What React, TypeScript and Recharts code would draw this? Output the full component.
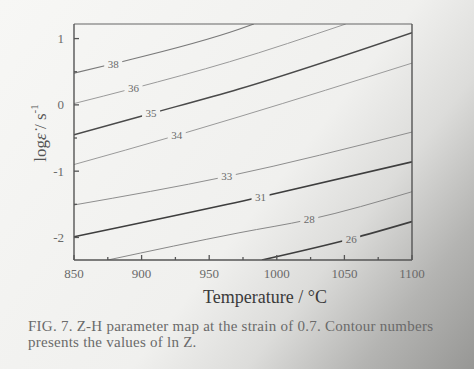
import React from 'react';
import { LineChart, Line, XAxis, YAxis, Label } from 'recharts';

// ---- data ----
const xTicks = [850, 875, 900, 925, 950, 975, 1000, 1025, 1050, 1075, 1100];
const xMajor = [850, 900, 950, 1000, 1050, 1100];
const yTicks = [-2, -1.5, -1, -0.5, 0, 0.5, 1];
const yMajor = [-2, -1, 0, 1];

const contour38 = [{ t: 850, v: 0.48 }, { t: 879, v: 0.62 }, { t: 972, v: 1.14 }, { t: 983, v: 1.22 }];
const contour36 = [{ t: 850, v: 0.02 }, { t: 894, v: 0.25 }, { t: 965, v: 0.65 }, { t: 1051, v: 1.22 }];
const contour35 = [{ t: 850, v: -0.45 }, { t: 907, v: -0.13 }, { t: 972, v: 0.24 }, { t: 1100, v: 1.09 }];
const contour34 = [{ t: 850, v: -0.9 }, { t: 926, v: -0.46 }, { t: 972, v: -0.18 }, { t: 1100, v: 0.63 }];
const contour33 = [{ t: 850, v: -1.51 }, { t: 963, v: -1.08 }, { t: 1100, v: -0.41 }];
const contour31 = [{ t: 850, v: -1.99 }, { t: 988, v: -1.39 }, { t: 1100, v: -0.86 }];
const contour28 = [{ t: 875, v: -2.34 }, { t: 972, v: -1.93 }, { t: 1024, v: -1.73 }, { t: 1100, v: -1.31 }];
const contour26 = [{ t: 989, v: -2.34 }, { t: 1055, v: -2.02 }, { t: 1100, v: -1.76 }];

const contours = [
  { name: '38', data: contour38, labelIdx: 1, color: '#7a7a7a', w: 1.2 },
  { name: '36', data: contour36, labelIdx: 1, color: '#9a9a9a', w: 1.0 },
  { name: '35', data: contour35, labelIdx: 1, color: '#4a4a4a', w: 1.5 },
  { name: '34', data: contour34, labelIdx: 1, color: '#9a9a9a', w: 1.0 },
  { name: '33', data: contour33, labelIdx: 1, color: '#8e8e8e', w: 1.0 },
  { name: '31', data: contour31, labelIdx: 1, color: '#3e3e3e', w: 1.6 },
  { name: '28', data: contour28, labelIdx: 2, color: '#888888', w: 1.0 },
  { name: '26', data: contour26, labelIdx: 1, color: '#3e3e3e', w: 1.6 },
];

const SERIF = '"Liberation Serif", "Times New Roman", serif';
const BG_STOPS = [
  { o: 0, c: '#f7f7f5' },
  { o: 0.55, c: '#f0f0ee' },
  { o: 0.7, c: '#dcdcda' },
  { o: 0.85, c: '#b4b4b2' },
  { o: 1, c: '#979795' },
];
const cssGradient = `linear-gradient(127.9deg, ${BG_STOPS.map((s) => `${s.c} ${s.o * 100}%`).join(', ')})`;

const XTick = (p: any) => {
  const v = p.payload.value;
  const major = xMajor.includes(v);
  const ay = p.y - 8;
  return (
    <g>
      <line x1={p.x} x2={p.x} y1={ay} y2={ay - (major ? 5 : 3)} stroke="#555" strokeWidth={1.3} />
      {major && (
        <text x={p.x} y={p.y} dy="0.75em" textAnchor="middle" fontSize={13} fill="#6a6a6a" fontFamily={SERIF}>
          {v}
        </text>
      )}
    </g>
  );
};

const YTick = (p: any) => {
  const v = p.payload.value;
  const major = yMajor.includes(v);
  const ax = p.x + 8;
  return (
    <g>
      <line x1={ax} x2={ax + (major ? 5 : 3)} y1={p.y} y2={p.y} stroke="#555" strokeWidth={1.3} />
      {major && (
        <text x={p.x - 2} y={p.y} dy="0.35em" textAnchor="end" fontSize={13} fill="#6a6a6a" fontFamily={SERIF}>
          {v}
        </text>
      )}
    </g>
  );
};

const XTitle = (p: any) => {
  const vb = p.viewBox;
  return (
    <text x={vb.x + vb.width / 2 + 22} y={vb.y + 43} textAnchor="middle" fontSize={18} fill="#3a3a3a" fontFamily={SERIF}>
      Temperature / °C
    </text>
  );
};

const YTitle = (p: any) => {
  const vb = p.viewBox;
  const cx = vb.x + 26;
  const cy = vb.y + vb.height / 2 - 9;
  return (
    <g>
      <defs>
        <linearGradient id="paperBg" gradientUnits="userSpaceOnUse" x1={0} y1={0} x2={474} y2={369}>
          {BG_STOPS.map((s) => (
            <stop key={s.o} offset={s.o} stopColor={s.c} />
          ))}
        </linearGradient>
      </defs>
      <text
        x={cx}
        y={cy}
        transform={`rotate(-90 ${cx} ${cy})`}
        textAnchor="middle"
        dominantBaseline="central"
        fontSize={17}
        fill="#555"
        fontFamily={SERIF}
      >
        log<tspan fontStyle="italic">{'\u03B5\u0307'}</tspan> / s<tspan dy={-6} fontSize={11}>-1</tspan>
      </text>
    </g>
  );
};

const makeLabel = (name: string, labelIdx: number) => (p: any) => {
  if (p.index !== labelIdx) return <g />;
  return (
    <g>
      <rect x={p.x - 9} y={p.y - 6} width={18} height={12} fill="url(#paperBg)" />
      <text x={p.x} y={p.y} dy="0.35em" textAnchor="middle" fontSize={11} fill="#6a6a6a" fontFamily={SERIF}>
        {name}
      </text>
    </g>
  );
};

export default function App() {
  return (
    <div
      style={{
        position: 'absolute',
        left: 0,
        top: 0,
        width: 474,
        height: 369,
        overflow: 'hidden',
        background: cssGradient,
        fontFamily: SERIF,
      }}
    >
      <LineChart width={474} height={369} margin={{ top: 23, right: 61, bottom: 59, left: 14 }}>
        <XAxis
          xAxisId="b"
          dataKey="t"
          type="number"
          domain={[850, 1100]}
          ticks={xTicks}
          interval={0}
          allowDataOverflow
          tickLine={false}
          tickSize={4}
          tickMargin={4}
          height={50}
          axisLine={{ stroke: '#555', strokeWidth: 1.4 }}
          tick={(p: any) => <XTick {...p} />}
        >
          <Label content={XTitle} />
        </XAxis>
        <XAxis
          xAxisId="top"
          orientation="top"
          type="number"
          domain={[850, 1100]}
          height={1}
          tick={false}
          tickLine={false}
          axisLine={{ stroke: '#666', strokeWidth: 1.2 }}
        />
        <YAxis
          yAxisId="l"
          type="number"
          domain={[-2.34, 1.22]}
          ticks={yTicks}
          interval={0}
          allowDataOverflow
          tickLine={false}
          tickSize={4}
          tickMargin={4}
          width={60}
          axisLine={{ stroke: '#555', strokeWidth: 1.4 }}
          tick={(p: any) => <YTick {...p} />}
        >
          <Label content={YTitle} />
        </YAxis>
        <YAxis
          yAxisId="r"
          orientation="right"
          type="number"
          domain={[-2.34, 1.22]}
          width={1}
          tick={false}
          tickLine={false}
          axisLine={{ stroke: '#555', strokeWidth: 1.4 }}
        />
        {contours.map((c) => (
          <Line
            key={c.name}
            xAxisId="b"
            yAxisId="l"
            data={c.data}
            dataKey="v"
            type="monotone"
            stroke={c.color}
            strokeWidth={c.w}
            dot={false}
            isAnimationActive={false}
            label={makeLabel(c.name, c.labelIdx)}
          />
        ))}
      </LineChart>
      <div
        style={{
          position: 'absolute',
          left: 28,
          top: 318,
          fontSize: 15,
          letterSpacing: 0.25,
          lineHeight: '16px',
          color: '#6a6a6a',
          whiteSpace: 'nowrap',
          fontFamily: SERIF,
        }}
      >
        <div>FIG. 7. Z-H parameter map at the strain of 0.7. Contour numbers</div>
        <div>presents the values of ln Z.</div>
      </div>
    </div>
  );
}
